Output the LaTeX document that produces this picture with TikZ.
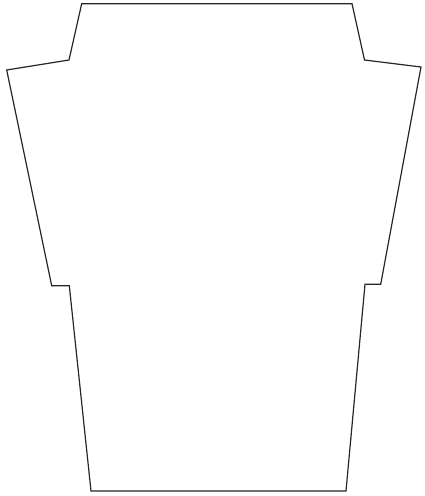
\documentclass[tikz,border=0pt]{standalone}
\begin{document}
\begin{tikzpicture}[x=1pt,y=-1pt,outline/.style={draw=black!85,line width=1.2pt,line join=miter}]
\useasboundingbox (0,0) rectangle (424,496);
\coordinate (a) at (81.7,3.7);
\coordinate (b) at (352,3.7);
\coordinate (c) at (364.5,60);
\coordinate (d) at (421,67);
\coordinate (e) at (380.7,284.3);
\coordinate (f) at (365,284.3);
\coordinate (g) at (346,491);
\coordinate (h) at (91,491);
\coordinate (i) at (69.3,285.7);
\coordinate (j) at (51.7,285.7);
\coordinate (k) at (6.7,70);
\coordinate (l) at (69,60);
\draw[outline] (a) -- (b) -- (c) -- (d) -- (e) -- (f) -- (g) -- (h) -- (i) -- (j) -- (k) -- (l) -- cycle;
\end{tikzpicture}
\end{document}
